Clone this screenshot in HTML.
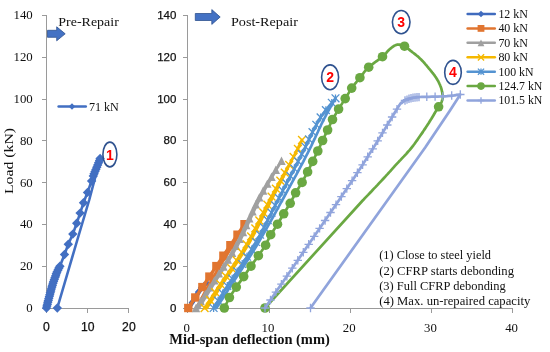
<!DOCTYPE html>
<html lang="en"><head><meta charset="utf-8"><title>Load vs mid-span deflection</title>
<style>html,body{margin:0;padding:0;background:#fff}svg{display:block}</style></head>
<body>
<svg width="550" height="352" viewBox="0 0 550 352">
<rect width="550" height="352" fill="#ffffff"/>
<path d="M46.5 14.8 V308.5 H128.9" stroke="#9a9a9a" stroke-width="1" fill="none" shape-rendering="crispEdges"/>
<path d="M42 308.4 h4.5" stroke="#9a9a9a" stroke-width="1" shape-rendering="crispEdges"/>
<path d="M42 266.5 h4.5" stroke="#9a9a9a" stroke-width="1" shape-rendering="crispEdges"/>
<path d="M42 224.6 h4.5" stroke="#9a9a9a" stroke-width="1" shape-rendering="crispEdges"/>
<path d="M42 182.8 h4.5" stroke="#9a9a9a" stroke-width="1" shape-rendering="crispEdges"/>
<path d="M42 140.9 h4.5" stroke="#9a9a9a" stroke-width="1" shape-rendering="crispEdges"/>
<path d="M42 99 h4.5" stroke="#9a9a9a" stroke-width="1" shape-rendering="crispEdges"/>
<path d="M42 57.1 h4.5" stroke="#9a9a9a" stroke-width="1" shape-rendering="crispEdges"/>
<path d="M42 15.2 h4.5" stroke="#9a9a9a" stroke-width="1" shape-rendering="crispEdges"/>
<path d="M46.5 308.5 v4.5" stroke="#9a9a9a" stroke-width="1" shape-rendering="crispEdges"/>
<path d="M87.7 308.5 v4.5" stroke="#9a9a9a" stroke-width="1" shape-rendering="crispEdges"/>
<path d="M128.9 308.5 v4.5" stroke="#9a9a9a" stroke-width="1" shape-rendering="crispEdges"/>
<path d="M187.8 14.8 V308.5 H512.6" stroke="#9a9a9a" stroke-width="1" fill="none" shape-rendering="crispEdges"/>
<path d="M183.3 308.4 h4.5" stroke="#9a9a9a" stroke-width="1" shape-rendering="crispEdges"/>
<path d="M183.3 266.5 h4.5" stroke="#9a9a9a" stroke-width="1" shape-rendering="crispEdges"/>
<path d="M183.3 224.6 h4.5" stroke="#9a9a9a" stroke-width="1" shape-rendering="crispEdges"/>
<path d="M183.3 182.8 h4.5" stroke="#9a9a9a" stroke-width="1" shape-rendering="crispEdges"/>
<path d="M183.3 140.9 h4.5" stroke="#9a9a9a" stroke-width="1" shape-rendering="crispEdges"/>
<path d="M183.3 99 h4.5" stroke="#9a9a9a" stroke-width="1" shape-rendering="crispEdges"/>
<path d="M183.3 57.1 h4.5" stroke="#9a9a9a" stroke-width="1" shape-rendering="crispEdges"/>
<path d="M183.3 15.2 h4.5" stroke="#9a9a9a" stroke-width="1" shape-rendering="crispEdges"/>
<path d="M187.8 308.5 v4.5" stroke="#9a9a9a" stroke-width="1" shape-rendering="crispEdges"/>
<path d="M269 308.5 v4.5" stroke="#9a9a9a" stroke-width="1" shape-rendering="crispEdges"/>
<path d="M350.2 308.5 v4.5" stroke="#9a9a9a" stroke-width="1" shape-rendering="crispEdges"/>
<path d="M431.4 308.5 v4.5" stroke="#9a9a9a" stroke-width="1" shape-rendering="crispEdges"/>
<path d="M512.6 308.5 v4.5" stroke="#9a9a9a" stroke-width="1" shape-rendering="crispEdges"/>
<text x="32.7" y="312.2" text-anchor="end" font-family='"Liberation Serif", "DejaVu Serif", serif' font-size="12.8" fill="#111">0</text>
<text x="176.4" y="311.9" text-anchor="end" font-family='"Liberation Sans", "DejaVu Sans", sans-serif' font-size="11.5" fill="#111" stroke="#111" stroke-width="0.25">0</text>
<text x="32.7" y="270.3" text-anchor="end" font-family='"Liberation Serif", "DejaVu Serif", serif' font-size="12.8" fill="#111">20</text>
<text x="176.4" y="270" text-anchor="end" font-family='"Liberation Sans", "DejaVu Sans", sans-serif' font-size="11.5" fill="#111" stroke="#111" stroke-width="0.25">20</text>
<text x="32.7" y="228.4" text-anchor="end" font-family='"Liberation Serif", "DejaVu Serif", serif' font-size="12.8" fill="#111">40</text>
<text x="176.4" y="228.1" text-anchor="end" font-family='"Liberation Sans", "DejaVu Sans", sans-serif' font-size="11.5" fill="#111" stroke="#111" stroke-width="0.25">40</text>
<text x="32.7" y="186.6" text-anchor="end" font-family='"Liberation Serif", "DejaVu Serif", serif' font-size="12.8" fill="#111">60</text>
<text x="176.4" y="186.3" text-anchor="end" font-family='"Liberation Sans", "DejaVu Sans", sans-serif' font-size="11.5" fill="#111" stroke="#111" stroke-width="0.25">60</text>
<text x="32.7" y="144.7" text-anchor="end" font-family='"Liberation Serif", "DejaVu Serif", serif' font-size="12.8" fill="#111">80</text>
<text x="176.4" y="144.4" text-anchor="end" font-family='"Liberation Sans", "DejaVu Sans", sans-serif' font-size="11.5" fill="#111" stroke="#111" stroke-width="0.25">80</text>
<text x="32.7" y="102.8" text-anchor="end" font-family='"Liberation Serif", "DejaVu Serif", serif' font-size="12.8" fill="#111">100</text>
<text x="176.4" y="102.5" text-anchor="end" font-family='"Liberation Sans", "DejaVu Sans", sans-serif' font-size="11.5" fill="#111" stroke="#111" stroke-width="0.25">100</text>
<text x="32.7" y="60.9" text-anchor="end" font-family='"Liberation Serif", "DejaVu Serif", serif' font-size="12.8" fill="#111">120</text>
<text x="176.4" y="60.6" text-anchor="end" font-family='"Liberation Sans", "DejaVu Sans", sans-serif' font-size="11.5" fill="#111" stroke="#111" stroke-width="0.25">120</text>
<text x="32.7" y="19" text-anchor="end" font-family='"Liberation Serif", "DejaVu Serif", serif' font-size="12.8" fill="#111">140</text>
<text x="176.4" y="18.7" text-anchor="end" font-family='"Liberation Sans", "DejaVu Sans", sans-serif' font-size="11.5" fill="#111" stroke="#111" stroke-width="0.25">140</text>
<text x="46.5" y="330.6" text-anchor="middle" font-family='"Liberation Sans", "DejaVu Sans", sans-serif' font-size="12.2" fill="#111" stroke="#111" stroke-width="0.25">0</text>
<text x="87.7" y="330.6" text-anchor="middle" font-family='"Liberation Sans", "DejaVu Sans", sans-serif' font-size="12.2" fill="#111" stroke="#111" stroke-width="0.25">10</text>
<text x="128.9" y="330.6" text-anchor="middle" font-family='"Liberation Sans", "DejaVu Sans", sans-serif' font-size="12.2" fill="#111" stroke="#111" stroke-width="0.25">20</text>
<text x="186.8" y="331.5" text-anchor="middle" font-family='"Liberation Serif", "DejaVu Serif", serif' font-size="12.8" fill="#111">0</text>
<text x="268" y="331.5" text-anchor="middle" font-family='"Liberation Serif", "DejaVu Serif", serif' font-size="12.8" fill="#111">10</text>
<text x="349.2" y="331.5" text-anchor="middle" font-family='"Liberation Serif", "DejaVu Serif", serif' font-size="12.8" fill="#111">20</text>
<text x="430.4" y="331.5" text-anchor="middle" font-family='"Liberation Serif", "DejaVu Serif", serif' font-size="12.8" fill="#111">30</text>
<text x="511.6" y="331.5" text-anchor="middle" font-family='"Liberation Serif", "DejaVu Serif", serif' font-size="12.8" fill="#111">40</text>
<text x="249.5" y="343.6" text-anchor="middle" textLength="160.5" lengthAdjust="spacingAndGlyphs" font-family='"Liberation Serif", "DejaVu Serif", serif' font-weight="bold" font-size="13.8" fill="#111">Mid-span deflection (mm)</text>
<text transform="translate(12.6 161) rotate(-90)" text-anchor="middle" textLength="66" lengthAdjust="spacingAndGlyphs" font-family='"Liberation Serif", "DejaVu Serif", serif' font-size="12.3" fill="#111">Load  (kN)</text>
<polyline points="46.5,308 47.4,304 50.2,293 53.2,282.5 57,272 60.2,265.5 64.5,254.5 68.3,244.3 72.8,234.1 76.7,223.3 80.1,213.1 83.5,202.8 87.5,192.4 91.6,181 93.6,175 100.1,159 89.2,200 77.3,240 57.3,308" fill="none" stroke="#426FC2" stroke-width="2.6" stroke-linejoin="round" stroke-linecap="round" />
<path d="M46.5 303.3 l4.7 4.7 l-4.7 4.7 l-4.7 -4.7 z" fill="#426FC2"/>
<path d="M46.9 301.4 l4.7 4.7 l-4.7 4.7 l-4.7 -4.7 z" fill="#426FC2"/>
<path d="M47.4 299.5 l4.7 4.7 l-4.7 4.7 l-4.7 -4.7 z" fill="#426FC2"/>
<path d="M47.8 297.6 l4.7 4.7 l-4.7 4.7 l-4.7 -4.7 z" fill="#426FC2"/>
<path d="M48.3 295.7 l4.7 4.7 l-4.7 4.7 l-4.7 -4.7 z" fill="#426FC2"/>
<path d="M48.8 293.8 l4.7 4.7 l-4.7 4.7 l-4.7 -4.7 z" fill="#426FC2"/>
<path d="M49.3 291.9 l4.7 4.7 l-4.7 4.7 l-4.7 -4.7 z" fill="#426FC2"/>
<path d="M49.8 290 l4.7 4.7 l-4.7 4.7 l-4.7 -4.7 z" fill="#426FC2"/>
<path d="M50.3 288.1 l4.7 4.7 l-4.7 4.7 l-4.7 -4.7 z" fill="#426FC2"/>
<path d="M50.8 286.2 l4.7 4.7 l-4.7 4.7 l-4.7 -4.7 z" fill="#426FC2"/>
<path d="M51.3 284.3 l4.7 4.7 l-4.7 4.7 l-4.7 -4.7 z" fill="#426FC2"/>
<path d="M51.9 282.4 l4.7 4.7 l-4.7 4.7 l-4.7 -4.7 z" fill="#426FC2"/>
<path d="M52.4 280.5 l4.7 4.7 l-4.7 4.7 l-4.7 -4.7 z" fill="#426FC2"/>
<path d="M53 278.6 l4.7 4.7 l-4.7 4.7 l-4.7 -4.7 z" fill="#426FC2"/>
<path d="M53.6 276.7 l4.7 4.7 l-4.7 4.7 l-4.7 -4.7 z" fill="#426FC2"/>
<path d="M54.3 274.8 l4.7 4.7 l-4.7 4.7 l-4.7 -4.7 z" fill="#426FC2"/>
<path d="M55 272.9 l4.7 4.7 l-4.7 4.7 l-4.7 -4.7 z" fill="#426FC2"/>
<path d="M55.7 271 l4.7 4.7 l-4.7 4.7 l-4.7 -4.7 z" fill="#426FC2"/>
<path d="M56.3 269.1 l4.7 4.7 l-4.7 4.7 l-4.7 -4.7 z" fill="#426FC2"/>
<path d="M57 267.2 l4.7 4.7 l-4.7 4.7 l-4.7 -4.7 z" fill="#426FC2"/>
<path d="M58 265.3 l4.7 4.7 l-4.7 4.7 l-4.7 -4.7 z" fill="#426FC2"/>
<path d="M58.9 263.4 l4.7 4.7 l-4.7 4.7 l-4.7 -4.7 z" fill="#426FC2"/>
<path d="M59.9 261.5 l4.7 4.7 l-4.7 4.7 l-4.7 -4.7 z" fill="#426FC2"/>
<path d="M64.5 249.8 l4.7 4.7 l-4.7 4.7 l-4.7 -4.7 z" fill="#426FC2"/>
<path d="M68.3 239.6 l4.7 4.7 l-4.7 4.7 l-4.7 -4.7 z" fill="#426FC2"/>
<path d="M72.8 229.4 l4.7 4.7 l-4.7 4.7 l-4.7 -4.7 z" fill="#426FC2"/>
<path d="M76.7 218.6 l4.7 4.7 l-4.7 4.7 l-4.7 -4.7 z" fill="#426FC2"/>
<path d="M80.1 208.4 l4.7 4.7 l-4.7 4.7 l-4.7 -4.7 z" fill="#426FC2"/>
<path d="M83.5 198.1 l4.7 4.7 l-4.7 4.7 l-4.7 -4.7 z" fill="#426FC2"/>
<path d="M87.5 187.7 l4.7 4.7 l-4.7 4.7 l-4.7 -4.7 z" fill="#426FC2"/>
<path d="M91.6 176.3 l4.7 4.7 l-4.7 4.7 l-4.7 -4.7 z" fill="#426FC2"/>
<path d="M93.3 171.3 l4.7 4.7 l-4.7 4.7 l-4.7 -4.7 z" fill="#426FC2"/>
<path d="M94.1 169.1 l4.7 4.7 l-4.7 4.7 l-4.7 -4.7 z" fill="#426FC2"/>
<path d="M95 166.9 l4.7 4.7 l-4.7 4.7 l-4.7 -4.7 z" fill="#426FC2"/>
<path d="M95.9 164.7 l4.7 4.7 l-4.7 4.7 l-4.7 -4.7 z" fill="#426FC2"/>
<path d="M96.8 162.5 l4.7 4.7 l-4.7 4.7 l-4.7 -4.7 z" fill="#426FC2"/>
<path d="M97.7 160.3 l4.7 4.7 l-4.7 4.7 l-4.7 -4.7 z" fill="#426FC2"/>
<path d="M98.6 158.1 l4.7 4.7 l-4.7 4.7 l-4.7 -4.7 z" fill="#426FC2"/>
<path d="M99.5 155.9 l4.7 4.7 l-4.7 4.7 l-4.7 -4.7 z" fill="#426FC2"/>
<path d="M100.1 153.7 l4.7 4.7 l-4.7 4.7 l-4.7 -4.7 z" fill="#426FC2"/>
<path d="M57.3 303.3 l4.7 4.7 l-4.7 4.7 l-4.7 -4.7 z" fill="#426FC2"/>
<polyline points="188.3,308 193.5,297.5 200,287.5 206,283 190,308" fill="none" stroke="#406BBE" stroke-width="2.2" stroke-linejoin="round" stroke-linecap="round" />
<path d="M188.3 304.8 l3.2 3.2 l-3.2 3.2 l-3.2 -3.2 z" fill="#406BBE"/>
<path d="M191.8 299.3 l3.2 3.2 l-3.2 3.2 l-3.2 -3.2 z" fill="#406BBE"/>
<path d="M194.5 294.3 l3.2 3.2 l-3.2 3.2 l-3.2 -3.2 z" fill="#406BBE"/>
<path d="M198 288.8 l3.2 3.2 l-3.2 3.2 l-3.2 -3.2 z" fill="#406BBE"/>
<path d="M201 284.3 l3.2 3.2 l-3.2 3.2 l-3.2 -3.2 z" fill="#406BBE"/>
<path d="M204 281.8 l3.2 3.2 l-3.2 3.2 l-3.2 -3.2 z" fill="#406BBE"/>
<path d="M207 279.8 l3.2 3.2 l-3.2 3.2 l-3.2 -3.2 z" fill="#406BBE"/>
<polyline points="188.3,308 244.5,224.2 234,243 222,262.5 209,285 196.5,308" fill="none" stroke="#E17530" stroke-width="3.2" stroke-linejoin="round" stroke-linecap="round" />
<rect x="184.1" y="303.8" width="8.4" height="8.4" fill="#E17530"/>
<rect x="191.1" y="293.3" width="8.4" height="8.4" fill="#E17530"/>
<rect x="198.2" y="282.9" width="8.4" height="8.4" fill="#E17530"/>
<rect x="205.2" y="272.4" width="8.4" height="8.4" fill="#E17530"/>
<rect x="212.2" y="261.9" width="8.4" height="8.4" fill="#E17530"/>
<rect x="219.2" y="251.5" width="8.4" height="8.4" fill="#E17530"/>
<rect x="226.2" y="241" width="8.4" height="8.4" fill="#E17530"/>
<rect x="233.3" y="230.5" width="8.4" height="8.4" fill="#E17530"/>
<rect x="240.3" y="220" width="8.4" height="8.4" fill="#E17530"/>
<polyline points="196,308 196.9,306.6 198,305 199.4,303 200.8,300.8 202.5,298.4 204.2,295.8 206.1,293.1 208,290.1 210,287.1 212,284 214.1,280.7 216.4,277.3 218.8,273.7 221.3,269.9 223.8,265.9 226.4,261.9 229,257.8 231.6,253.6 234.1,249.3 236.5,245 238.8,240.6 241.1,236 243.4,231.2 245.6,226.3 247.9,221.4 250.1,216.5 252.3,211.6 254.5,206.9 256.8,202.3 259,198 261.4,193.7 263.9,189.3 266.5,184.9 269.1,180.6 271.7,176.5 274.1,172.5 276.4,168.9 278.4,165.7 280.2,163 281.5,160.8 280.2,163 278.6,165.7 276.7,168.9 274.6,172.5 272.3,176.5 269.9,180.6 267.4,184.9 265,189.3 262.6,193.7 260.3,198 258.1,202.3 255.9,206.9 253.7,211.6 251.5,216.5 249.2,221.4 247,226.3 244.7,231.2 242.4,236 240.1,240.6 237.8,245 235.4,249.3 232.9,253.6 230.4,257.8 227.9,261.9 225.3,265.9 222.8,269.9 220.4,273.7 218,277.3 215.8,280.7 213.8,284 211.9,287.1 210,290.1 208.2,293.1 206.5,295.8 204.9,298.4 203.4,300.8 202.1,303 200.9,305 199.8,306.6 199,308" fill="none" stroke="#A0A0A0" stroke-width="2.7" stroke-linejoin="round" stroke-linecap="round" />
<path d="M196 303.8 L200.2 312.2 L191.8 312.2 z" fill="#A0A0A0"/>
<path d="M200.7 296.9 L204.9 305.3 L196.5 305.3 z" fill="#A0A0A0"/>
<path d="M205.3 290 L209.5 298.4 L201.1 298.4 z" fill="#A0A0A0"/>
<path d="M209.9 283.1 L214.1 291.5 L205.7 291.5 z" fill="#A0A0A0"/>
<path d="M214.4 276.2 L218.6 284.6 L210.2 284.6 z" fill="#A0A0A0"/>
<path d="M218.9 269.2 L223.1 277.6 L214.7 277.6 z" fill="#A0A0A0"/>
<path d="M223.5 262.3 L227.7 270.7 L219.3 270.7 z" fill="#A0A0A0"/>
<path d="M227.9 255.4 L232.1 263.8 L223.7 263.8 z" fill="#A0A0A0"/>
<path d="M232.1 248.5 L236.3 256.9 L227.9 256.9 z" fill="#A0A0A0"/>
<path d="M236 241.6 L240.2 250 L231.8 250 z" fill="#A0A0A0"/>
<path d="M239.7 234.7 L243.9 243.1 L235.5 243.1 z" fill="#A0A0A0"/>
<path d="M243 227.8 L247.2 236.2 L238.8 236.2 z" fill="#A0A0A0"/>
<path d="M246.2 220.9 L250.4 229.3 L242 229.3 z" fill="#A0A0A0"/>
<path d="M249.3 214 L253.5 222.4 L245.1 222.4 z" fill="#A0A0A0"/>
<path d="M252.5 207.1 L256.7 215.5 L248.3 215.5 z" fill="#A0A0A0"/>
<path d="M255.8 200.1 L260 208.5 L251.6 208.5 z" fill="#A0A0A0"/>
<path d="M259.3 193.2 L263.5 201.6 L255.1 201.6 z" fill="#A0A0A0"/>
<path d="M263.2 186.3 L267.4 194.7 L259 194.7 z" fill="#A0A0A0"/>
<path d="M267.3 179.4 L271.5 187.8 L263.1 187.8 z" fill="#A0A0A0"/>
<path d="M271.5 172.5 L275.7 180.9 L267.3 180.9 z" fill="#A0A0A0"/>
<path d="M275.8 165.6 L280 174 L271.6 174 z" fill="#A0A0A0"/>
<path d="M281.5 156.6 L285.7 165 L277.3 165 z" fill="#A0A0A0"/>
<polyline points="204.6,308 205.5,306.6 206.6,305 207.9,303 209.3,300.8 210.9,298.4 212.7,295.8 214.5,293.1 216.4,290.1 218.4,287.1 220.5,284 222.7,280.7 225,277.3 227.6,273.7 230.2,269.9 232.9,265.9 235.6,261.9 238.3,257.8 241.1,253.6 243.7,249.3 246.3,245 248.8,240.6 251.3,236.1 253.7,231.4 256.2,226.7 258.6,221.8 261,217 263.5,212.2 265.9,207.4 268.3,202.6 270.8,198 273.3,193.3 276,188.4 278.8,183.5 281.5,178.5 284.3,173.6 286.9,168.9 289.4,164.4 291.7,160.3 293.8,156.6 295.5,153.4 296.9,150.7 298.1,148.5 299,146.7 299.7,145.2 300.3,143.9 300.7,142.9 301.1,142.1 301.4,141.3 301.7,140.7 302,140 300.2,143.5 297.9,148.1 295.2,153.5 292.1,159.6 288.8,166.1 285.4,172.8 281.9,179.6 278.6,186.2 275.4,192.4 272.5,198 269.9,203.2 267.3,208.2 264.8,213.2 262.4,218 260,222.7 257.6,227.3 255.3,231.8 252.9,236.3 250.5,240.7 248,245 245.4,249.3 242.8,253.6 240.1,257.8 237.4,261.9 234.7,265.9 232,269.9 229.4,273.7 227,277.3 224.6,280.7 222.5,284 220.5,287.1 218.5,290.1 216.6,293.1 214.8,295.8 213.2,298.4 211.6,300.8 210.2,303 208.9,305 207.9,306.6 207,308" fill="none" stroke="#F5B800" stroke-width="2.7" stroke-linejoin="round" stroke-linecap="round" />
<path d="M200.7 304.1 l7.8 7.8 M200.7 311.9 l7.8 -7.8" stroke="#F5B800" stroke-width="1.4" fill="none"/>
<path d="M206 296.1 l7.8 7.8 M206 303.9 l7.8 -7.8" stroke="#F5B800" stroke-width="1.4" fill="none"/>
<path d="M211.2 288.2 l7.8 7.8 M211.2 296 l7.8 -7.8" stroke="#F5B800" stroke-width="1.4" fill="none"/>
<path d="M216.5 280.2 l7.8 7.8 M216.5 288 l7.8 -7.8" stroke="#F5B800" stroke-width="1.4" fill="none"/>
<path d="M221.9 272.3 l7.8 7.8 M221.9 280.1 l7.8 -7.8" stroke="#F5B800" stroke-width="1.4" fill="none"/>
<path d="M227.4 264.3 l7.8 7.8 M227.4 272.1 l7.8 -7.8" stroke="#F5B800" stroke-width="1.4" fill="none"/>
<path d="M232.8 256.4 l7.8 7.8 M232.8 264.2 l7.8 -7.8" stroke="#F5B800" stroke-width="1.4" fill="none"/>
<path d="M237.9 248.4 l7.8 7.8 M237.9 256.2 l7.8 -7.8" stroke="#F5B800" stroke-width="1.4" fill="none"/>
<path d="M242.8 240.4 l7.8 7.8 M242.8 248.2 l7.8 -7.8" stroke="#F5B800" stroke-width="1.4" fill="none"/>
<path d="M247.2 232.5 l7.8 7.8 M247.2 240.3 l7.8 -7.8" stroke="#F5B800" stroke-width="1.4" fill="none"/>
<path d="M251.4 224.5 l7.8 7.8 M251.4 232.3 l7.8 -7.8" stroke="#F5B800" stroke-width="1.4" fill="none"/>
<path d="M255.4 216.6 l7.8 7.8 M255.4 224.4 l7.8 -7.8" stroke="#F5B800" stroke-width="1.4" fill="none"/>
<path d="M259.4 208.6 l7.8 7.8 M259.4 216.4 l7.8 -7.8" stroke="#F5B800" stroke-width="1.4" fill="none"/>
<path d="M263.5 200.7 l7.8 7.8 M263.5 208.5 l7.8 -7.8" stroke="#F5B800" stroke-width="1.4" fill="none"/>
<path d="M267.7 192.7 l7.8 7.8 M267.7 200.5 l7.8 -7.8" stroke="#F5B800" stroke-width="1.4" fill="none"/>
<path d="M272 184.7 l7.8 7.8 M272 192.5 l7.8 -7.8" stroke="#F5B800" stroke-width="1.4" fill="none"/>
<path d="M276.4 176.8 l7.8 7.8 M276.4 184.6 l7.8 -7.8" stroke="#F5B800" stroke-width="1.4" fill="none"/>
<path d="M280.9 168.8 l7.8 7.8 M280.9 176.6 l7.8 -7.8" stroke="#F5B800" stroke-width="1.4" fill="none"/>
<path d="M285.3 160.9 l7.8 7.8 M285.3 168.7 l7.8 -7.8" stroke="#F5B800" stroke-width="1.4" fill="none"/>
<path d="M289.7 152.9 l7.8 7.8 M289.7 160.7 l7.8 -7.8" stroke="#F5B800" stroke-width="1.4" fill="none"/>
<path d="M294 145 l7.8 7.8 M294 152.8 l7.8 -7.8" stroke="#F5B800" stroke-width="1.4" fill="none"/>
<path d="M298.1 136.1 l7.8 7.8 M298.1 143.9 l7.8 -7.8" stroke="#F5B800" stroke-width="1.4" fill="none"/>
<polyline points="213.6,308 214.4,306.7 215.4,305.1 216.5,303.3 217.8,301.3 219.2,299 220.7,296.5 222.4,293.9 224.1,291.1 226,288.1 228,285 230.2,281.7 232.5,278.2 235.1,274.5 237.7,270.6 240.5,266.5 243.3,262.3 246.2,258 249,253.7 251.7,249.4 254.3,245 256.8,240.6 259.4,236 261.9,231.3 264.4,226.6 266.8,221.8 269.3,217 271.8,212.1 274.2,207.4 276.6,202.6 279,198 281.4,193.4 283.8,188.7 286.3,184.1 288.7,179.4 291.1,174.9 293.5,170.3 295.8,165.9 298,161.6 300.1,157.4 302.2,153.4 304.1,149.6 306,145.8 307.7,142.2 309.4,138.7 311,135.3 312.6,132 314.2,128.8 315.8,125.8 317.4,122.8 319,120 320.7,117.3 322.6,114.6 324.5,111.9 326.4,109.4 328.3,107.1 330.1,104.9 331.8,102.8 333.3,101.1 334.5,99.5 335.5,98.3 334.8,99.5 333.9,101.1 332.9,102.8 331.8,104.9 330.5,107.1 329.2,109.4 327.8,111.9 326.3,114.6 324.9,117.3 323.5,120 322.1,122.8 320.7,125.8 319.2,128.8 317.8,132 316.2,135.3 314.7,138.7 313,142.2 311.3,145.8 309.4,149.6 307.5,153.4 305.4,157.4 303.3,161.6 301,165.9 298.6,170.3 296.2,174.9 293.7,179.4 291.1,184.1 288.6,188.7 286,193.4 283.5,198 280.9,202.6 278.3,207.4 275.7,212.2 273,217 270.3,221.8 267.6,226.7 264.9,231.4 262.2,236.1 259.6,240.6 257,245 254.4,249.3 251.8,253.6 249.1,257.8 246.4,261.9 243.8,265.9 241.2,269.9 238.8,273.7 236.4,277.3 234.1,280.7 232,284 230,287.1 228,290.1 226.2,293.1 224.4,295.8 222.7,298.4 221.1,300.8 219.7,303 218.5,305 217.4,306.6 216.5,308" fill="none" stroke="#5493D1" stroke-width="2.7" stroke-linejoin="round" stroke-linecap="round" />
<path d="M209.7 304.1 l7.8 7.8 M209.7 311.9 l7.8 -7.8 M213.6 304.1 l0 7.8" stroke="#5493D1" stroke-width="1.3" fill="none"/>
<path d="M214.2 296.8 l7.8 7.8 M214.2 304.6 l7.8 -7.8 M218.1 296.8 l0 7.8" stroke="#5493D1" stroke-width="1.3" fill="none"/>
<path d="M218.8 289.4 l7.8 7.8 M218.8 297.2 l7.8 -7.8 M222.7 289.4 l0 7.8" stroke="#5493D1" stroke-width="1.3" fill="none"/>
<path d="M223.4 282.1 l7.8 7.8 M223.4 289.9 l7.8 -7.8 M227.3 282.1 l0 7.8" stroke="#5493D1" stroke-width="1.3" fill="none"/>
<path d="M228.3 274.8 l7.8 7.8 M228.3 282.6 l7.8 -7.8 M232.2 274.8 l0 7.8" stroke="#5493D1" stroke-width="1.3" fill="none"/>
<path d="M233.3 267.5 l7.8 7.8 M233.3 275.3 l7.8 -7.8 M237.2 267.5 l0 7.8" stroke="#5493D1" stroke-width="1.3" fill="none"/>
<path d="M238.3 260.1 l7.8 7.8 M238.3 267.9 l7.8 -7.8 M242.2 260.1 l0 7.8" stroke="#5493D1" stroke-width="1.3" fill="none"/>
<path d="M243.1 252.8 l7.8 7.8 M243.1 260.6 l7.8 -7.8 M247 252.8 l0 7.8" stroke="#5493D1" stroke-width="1.3" fill="none"/>
<path d="M247.8 245.5 l7.8 7.8 M247.8 253.3 l7.8 -7.8 M251.7 245.5 l0 7.8" stroke="#5493D1" stroke-width="1.3" fill="none"/>
<path d="M252.1 238.1 l7.8 7.8 M252.1 245.9 l7.8 -7.8 M256 238.1 l0 7.8" stroke="#5493D1" stroke-width="1.3" fill="none"/>
<path d="M256.2 230.8 l7.8 7.8 M256.2 238.6 l7.8 -7.8 M260.1 230.8 l0 7.8" stroke="#5493D1" stroke-width="1.3" fill="none"/>
<path d="M260.1 223.5 l7.8 7.8 M260.1 231.3 l7.8 -7.8 M264 223.5 l0 7.8" stroke="#5493D1" stroke-width="1.3" fill="none"/>
<path d="M263.8 216.2 l7.8 7.8 M263.8 224 l7.8 -7.8 M267.7 216.2 l0 7.8" stroke="#5493D1" stroke-width="1.3" fill="none"/>
<path d="M267.6 208.8 l7.8 7.8 M267.6 216.6 l7.8 -7.8 M271.5 208.8 l0 7.8" stroke="#5493D1" stroke-width="1.3" fill="none"/>
<path d="M271.3 201.5 l7.8 7.8 M271.3 209.3 l7.8 -7.8 M275.2 201.5 l0 7.8" stroke="#5493D1" stroke-width="1.3" fill="none"/>
<path d="M275.1 194.2 l7.8 7.8 M275.1 202 l7.8 -7.8 M279 194.2 l0 7.8" stroke="#5493D1" stroke-width="1.3" fill="none"/>
<path d="M278.9 186.8 l7.8 7.8 M278.9 194.6 l7.8 -7.8 M282.8 186.8 l0 7.8" stroke="#5493D1" stroke-width="1.3" fill="none"/>
<path d="M282.7 179.5 l7.8 7.8 M282.7 187.3 l7.8 -7.8 M286.6 179.5 l0 7.8" stroke="#5493D1" stroke-width="1.3" fill="none"/>
<path d="M286.6 172.2 l7.8 7.8 M286.6 180 l7.8 -7.8 M290.5 172.2 l0 7.8" stroke="#5493D1" stroke-width="1.3" fill="none"/>
<path d="M290.4 164.8 l7.8 7.8 M290.4 172.6 l7.8 -7.8 M294.3 164.8 l0 7.8" stroke="#5493D1" stroke-width="1.3" fill="none"/>
<path d="M294.2 157.5 l7.8 7.8 M294.2 165.3 l7.8 -7.8 M298.1 157.5 l0 7.8" stroke="#5493D1" stroke-width="1.3" fill="none"/>
<path d="M297.9 150.2 l7.8 7.8 M297.9 158 l7.8 -7.8 M301.8 150.2 l0 7.8" stroke="#5493D1" stroke-width="1.3" fill="none"/>
<path d="M301.6 142.9 l7.8 7.8 M301.6 150.7 l7.8 -7.8 M305.5 142.9 l0 7.8" stroke="#5493D1" stroke-width="1.3" fill="none"/>
<path d="M305.1 135.5 l7.8 7.8 M305.1 143.3 l7.8 -7.8 M309 135.5 l0 7.8" stroke="#5493D1" stroke-width="1.3" fill="none"/>
<path d="M308.6 128.2 l7.8 7.8 M308.6 136 l7.8 -7.8 M312.5 128.2 l0 7.8" stroke="#5493D1" stroke-width="1.3" fill="none"/>
<path d="M312.4 120.9 l7.8 7.8 M312.4 128.7 l7.8 -7.8 M316.3 120.9 l0 7.8" stroke="#5493D1" stroke-width="1.3" fill="none"/>
<path d="M316.7 113.5 l7.8 7.8 M316.7 121.3 l7.8 -7.8 M320.6 113.5 l0 7.8" stroke="#5493D1" stroke-width="1.3" fill="none"/>
<path d="M322 106.2 l7.8 7.8 M322 114 l7.8 -7.8 M325.9 106.2 l0 7.8" stroke="#5493D1" stroke-width="1.3" fill="none"/>
<path d="M327.9 98.9 l7.8 7.8 M327.9 106.7 l7.8 -7.8 M331.8 98.9 l0 7.8" stroke="#5493D1" stroke-width="1.3" fill="none"/>
<path d="M331.6 94.4 l7.8 7.8 M331.6 102.2 l7.8 -7.8 M335.5 94.4 l0 7.8" stroke="#5493D1" stroke-width="1.3" fill="none"/>
<polyline points="224.3,308 229.4,297.5 236.3,287.1 243.7,276.6 251,266.1 258.4,255.7 265.6,245.2 270.7,234.7 277.5,224.2 283.7,213.8 290.2,203.3 295.6,192.8 302.1,182.4 307.6,171.9 312.7,161.4 317.8,151 322.6,140.5 327.6,130 332.5,119.5 338.6,109.1 345.2,98.6 351.7,88.1 352.1,87.6 352.6,87 353.2,86.2 353.8,85.4 354.5,84.5 355.2,83.5 356,82.6 356.8,81.5 357.6,80.5 358.4,79.5 359.2,78.6 359.9,77.7 360.6,76.8 361.3,75.9 361.9,75 362.6,74.2 363.3,73.3 363.9,72.4 364.6,71.6 365.4,70.7 366.1,69.8 366.9,68.9 367.8,68.1 368.7,67.2 369.7,66.3 370.8,65.4 372,64.5 373.2,63.6 374.5,62.6 375.8,61.7 377,60.8 378.3,59.9 379.5,59.1 380.6,58.2 381.6,57.5 382.5,56.7 383.3,56 384,55.4 384.6,54.8 385.1,54.2 385.6,53.6 386.1,53.1 386.5,52.6 386.9,52.1 387.3,51.6 387.7,51.1 388.1,50.7 388.6,50.2 389.1,49.7 389.6,49.3 390.1,48.9 390.6,48.5 391.1,48.1 391.5,47.7 392,47.3 392.5,47 393,46.6 393.4,46.3 393.9,46 394.3,45.8 394.7,45.6 395.1,45.4 395.5,45.2 395.9,45.1 396.3,44.9 396.7,44.8 397,44.7 397.4,44.7 397.8,44.6 398.2,44.6 398.6,44.6 399,44.6 399.4,44.6 399.9,44.7 400.3,44.7 400.7,44.8 401.2,44.9 401.6,45 402.1,45.1 402.5,45.3 403,45.5 403.5,45.7 404,45.9 404.5,46.2 405,46.5 405.5,46.8 406.1,47.2 406.6,47.6 407.2,48 407.7,48.4 408.3,48.9 408.9,49.4 409.5,49.9 410.1,50.4 410.7,50.9 411.4,51.4 412.1,51.9 412.8,52.5 413.5,53 414.3,53.6 415,54.2 415.8,54.8 416.6,55.5 417.4,56.1 418.2,56.8 419,57.5 419.7,58.2 420.5,58.9 421.3,59.7 422,60.5 422.8,61.3 423.6,62.1 424.4,63 425.1,63.9 425.9,64.8 426.7,65.7 427.4,66.6 428.1,67.4 428.8,68.3 429.5,69.1 430.2,69.9 430.8,70.7 431.4,71.5 432,72.2 432.6,73 433.2,73.7 433.8,74.5 434.4,75.2 434.9,76 435.4,76.7 435.9,77.4 436.4,78.2 436.9,79 437.3,79.7 437.8,80.5 438.2,81.2 438.6,82 439,82.8 439.3,83.5 439.7,84.3 440,85 440.3,85.8 440.6,86.5 440.9,87.3 441.2,88.1 441.4,88.9 441.6,89.7 441.8,90.5 442,91.3 442.2,92.1 442.3,92.9 442.4,93.6 442.5,94.4 442.6,95.1 442.7,95.8 442.7,96.4 442.7,97 442.7,97.5 442.7,98.1 442.6,98.6 442.5,99 442.4,99.5 442.3,99.9 442.1,100.3 442,100.7 441.8,101.2 441.7,101.6 441.5,102 441.4,102.4 441.2,102.7 441.1,102.9 441,103 440.9,103.2 440.8,103.4 440.6,103.6 440.4,104 440.1,104.4 439.7,105 439.2,105.8 438.6,106.8 437.9,108 437,109.4 436,111.1 434.9,112.8 433.8,114.7 432.6,116.7 431.4,118.7 430.1,120.7 428.9,122.7 427.6,124.7 426.4,126.6 425.2,128.4 424,130.1 422.9,131.9 421.7,133.6 420.5,135.3 419.3,137 418.1,138.7 417,140.4 415.8,142 414.6,143.7 413.4,145.3 412.2,146.8 411,148.3 409.8,149.8 408.6,151.1 407.4,152.5 406.3,153.8 405.1,155.1 403.9,156.4 402.7,157.6 401.5,158.9 400.4,160.1 399.2,161.3 398,162.6 396.8,163.9 395.6,165.2 394.5,166.4 393.4,167.7 392.3,168.9 391.2,170.1 390.1,171.4 388.9,172.6 387.8,173.9 386.6,175.2 385.3,176.6 384,178 382.6,179.5 381.1,181.1 379.4,182.9 377.6,184.9 375.7,186.9 373.7,188.9 371.8,191 369.9,193 368.1,194.9 366.4,196.6 364.9,198.2 363.7,199.5 362.7,200.5 265,308" fill="none" stroke="#6AA842" stroke-width="2.7" stroke-linejoin="round" stroke-linecap="round" />
<circle cx="224.3" cy="308" r="4.8" fill="#6AA842"/>
<circle cx="229.4" cy="297.5" r="4.8" fill="#6AA842"/>
<circle cx="236.3" cy="287.1" r="4.8" fill="#6AA842"/>
<circle cx="243.7" cy="276.6" r="4.8" fill="#6AA842"/>
<circle cx="251" cy="266.1" r="4.8" fill="#6AA842"/>
<circle cx="258.4" cy="255.7" r="4.8" fill="#6AA842"/>
<circle cx="265.6" cy="245.2" r="4.8" fill="#6AA842"/>
<circle cx="270.7" cy="234.7" r="4.8" fill="#6AA842"/>
<circle cx="277.5" cy="224.2" r="4.8" fill="#6AA842"/>
<circle cx="283.7" cy="213.8" r="4.8" fill="#6AA842"/>
<circle cx="290.2" cy="203.3" r="4.8" fill="#6AA842"/>
<circle cx="295.6" cy="192.8" r="4.8" fill="#6AA842"/>
<circle cx="302.1" cy="182.4" r="4.8" fill="#6AA842"/>
<circle cx="307.6" cy="171.9" r="4.8" fill="#6AA842"/>
<circle cx="312.7" cy="161.4" r="4.8" fill="#6AA842"/>
<circle cx="317.8" cy="151" r="4.8" fill="#6AA842"/>
<circle cx="322.6" cy="140.5" r="4.8" fill="#6AA842"/>
<circle cx="327.6" cy="130" r="4.8" fill="#6AA842"/>
<circle cx="332.5" cy="119.5" r="4.8" fill="#6AA842"/>
<circle cx="338.6" cy="109.1" r="4.8" fill="#6AA842"/>
<circle cx="345.2" cy="98.6" r="4.8" fill="#6AA842"/>
<circle cx="351.7" cy="88.1" r="4.8" fill="#6AA842"/>
<circle cx="359.9" cy="77.7" r="4.8" fill="#6AA842"/>
<circle cx="368.7" cy="67.2" r="4.8" fill="#6AA842"/>
<circle cx="382.5" cy="56.7" r="4.8" fill="#6AA842"/>
<circle cx="404.5" cy="46.2" r="4.8" fill="#6AA842"/>
<circle cx="438.6" cy="106.8" r="4.8" fill="#6AA842"/>
<circle cx="265" cy="308" r="4.8" fill="#6AA842"/>
<polyline points="265,308 270,300.8 276.6,291.1 284.6,279.5 293.5,266.5 302.9,252.8 312.5,238.8 321.8,225.3 330.5,212.6 338.1,201.4 344.3,192.3 349.2,185.1 353.2,179.2 356.4,174.2 359.2,170.1 361.5,166.6 363.5,163.4 365.4,160.4 367.4,157.3 369.5,153.9 372,150 374.8,145.6 377.7,140.8 380.7,135.9 383.7,131 386.6,126.1 389.4,121.5 392.1,117.1 394.4,113.2 396.5,109.8 398.2,107.1 399.5,105.1 400.3,103.8 400.9,103 401.2,102.7 401.3,102.6 401.3,102.8 401.2,103.1 401.2,103.3 401.3,103.4 401.5,103.2 401.8,102.9 402.2,102.6 402.5,102.3 402.8,102 403.1,101.7 403.5,101.5 403.8,101.2 404.2,101 404.6,100.7 405,100.5 405.4,100.3 405.9,100 406.4,99.8 406.9,99.6 407.4,99.4 407.9,99.2 408.5,99 409,98.8 409.5,98.7 410,98.5 410.5,98.4 411,98.2 411.5,98.1 412,98 412.5,97.9 413,97.8 413.5,97.7 414,97.7 414.5,97.6 415,97.5 415.4,97.4 415.7,97.4 415.9,97.3 416,97.3 416.2,97.2 416.6,97.2 417,97.1 417.7,97.1 418.7,97.1 420,97 421.7,96.9 423.9,96.9 426.3,96.8 429,96.8 431.9,96.7 434.7,96.7 437.6,96.6 440.3,96.5 442.8,96.4 445,96.3 447,96.2 448.9,96 450.8,95.8 452.6,95.6 454.2,95.4 455.7,95.1 457.1,94.9 458.4,94.8 459.4,94.6 460.3,94.5 450,110.5 425.2,147.5 310.5,308" fill="none" stroke="#90A4DC" stroke-width="2.7" stroke-linejoin="round" stroke-linecap="round" />
<path d="M260.8 308 l8.4 0 M265 303.8 l0 8.4" stroke="#90A4DC" stroke-width="1.3" fill="none"/>
<path d="M266.3 300 l8.4 0 M270.5 295.8 l0 8.4" stroke="#90A4DC" stroke-width="1.3" fill="none"/>
<path d="M271.7 292.1 l8.4 0 M275.9 287.9 l0 8.4" stroke="#90A4DC" stroke-width="1.3" fill="none"/>
<path d="M277.2 284.1 l8.4 0 M281.4 279.9 l0 8.4" stroke="#90A4DC" stroke-width="1.3" fill="none"/>
<path d="M282.7 276.2 l8.4 0 M286.9 272 l0 8.4" stroke="#90A4DC" stroke-width="1.3" fill="none"/>
<path d="M288.1 268.2 l8.4 0 M292.3 264 l0 8.4" stroke="#90A4DC" stroke-width="1.3" fill="none"/>
<path d="M293.6 260.3 l8.4 0 M297.8 256.1 l0 8.4" stroke="#90A4DC" stroke-width="1.3" fill="none"/>
<path d="M299.1 252.3 l8.4 0 M303.3 248.1 l0 8.4" stroke="#90A4DC" stroke-width="1.3" fill="none"/>
<path d="M304.5 244.3 l8.4 0 M308.7 240.1 l0 8.4" stroke="#90A4DC" stroke-width="1.3" fill="none"/>
<path d="M310 236.4 l8.4 0 M314.2 232.2 l0 8.4" stroke="#90A4DC" stroke-width="1.3" fill="none"/>
<path d="M315.4 228.4 l8.4 0 M319.6 224.2 l0 8.4" stroke="#90A4DC" stroke-width="1.3" fill="none"/>
<path d="M320.9 220.5 l8.4 0 M325.1 216.3 l0 8.4" stroke="#90A4DC" stroke-width="1.3" fill="none"/>
<path d="M326.3 212.5 l8.4 0 M330.5 208.3 l0 8.4" stroke="#90A4DC" stroke-width="1.3" fill="none"/>
<path d="M331.8 204.6 l8.4 0 M336 200.4 l0 8.4" stroke="#90A4DC" stroke-width="1.3" fill="none"/>
<path d="M337.2 196.6 l8.4 0 M341.4 192.4 l0 8.4" stroke="#90A4DC" stroke-width="1.3" fill="none"/>
<path d="M342.6 188.6 l8.4 0 M346.8 184.4 l0 8.4" stroke="#90A4DC" stroke-width="1.3" fill="none"/>
<path d="M347.9 180.7 l8.4 0 M352.1 176.5 l0 8.4" stroke="#90A4DC" stroke-width="1.3" fill="none"/>
<path d="M353.2 172.7 l8.4 0 M357.4 168.5 l0 8.4" stroke="#90A4DC" stroke-width="1.3" fill="none"/>
<path d="M358.4 164.8 l8.4 0 M362.6 160.6 l0 8.4" stroke="#90A4DC" stroke-width="1.3" fill="none"/>
<path d="M363.5 156.8 l8.4 0 M367.7 152.6 l0 8.4" stroke="#90A4DC" stroke-width="1.3" fill="none"/>
<path d="M368.5 148.9 l8.4 0 M372.7 144.7 l0 8.4" stroke="#90A4DC" stroke-width="1.3" fill="none"/>
<path d="M373.5 140.9 l8.4 0 M377.7 136.7 l0 8.4" stroke="#90A4DC" stroke-width="1.3" fill="none"/>
<path d="M378.3 132.9 l8.4 0 M382.5 128.7 l0 8.4" stroke="#90A4DC" stroke-width="1.3" fill="none"/>
<path d="M383.1 125 l8.4 0 M387.3 120.8 l0 8.4" stroke="#90A4DC" stroke-width="1.3" fill="none"/>
<path d="M387.9 117 l8.4 0 M392.1 112.8 l0 8.4" stroke="#90A4DC" stroke-width="1.3" fill="none"/>
<path d="M392.8 109.1 l8.4 0 M397 104.9 l0 8.4" stroke="#90A4DC" stroke-width="1.3" fill="none"/>
<path d="M400.8 100.5 l8.4 0 M405 96.3 l0 8.4" stroke="#90A4DC" stroke-width="1.3" fill="none"/>
<path d="M402.8 99.6 l8.4 0 M407 95.4 l0 8.4" stroke="#90A4DC" stroke-width="1.3" fill="none"/>
<path d="M404.8 98.8 l8.4 0 M409 94.6 l0 8.4" stroke="#90A4DC" stroke-width="1.3" fill="none"/>
<path d="M406.8 98.2 l8.4 0 M411 94 l0 8.4" stroke="#90A4DC" stroke-width="1.3" fill="none"/>
<path d="M408.8 97.8 l8.4 0 M413 93.6 l0 8.4" stroke="#90A4DC" stroke-width="1.3" fill="none"/>
<path d="M410.8 97.5 l8.4 0 M415 93.3 l0 8.4" stroke="#90A4DC" stroke-width="1.3" fill="none"/>
<path d="M412.8 97.3 l8.4 0 M417 93.1 l0 8.4" stroke="#90A4DC" stroke-width="1.3" fill="none"/>
<path d="M414.8 97.1 l8.4 0 M419 92.9 l0 8.4" stroke="#90A4DC" stroke-width="1.3" fill="none"/>
<path d="M422.6 96.8 l8.4 0 M426.8 92.6 l0 8.4" stroke="#90A4DC" stroke-width="1.3" fill="none"/>
<path d="M430.9 96.6 l8.4 0 M435.1 92.4 l0 8.4" stroke="#90A4DC" stroke-width="1.3" fill="none"/>
<path d="M438.6 96.4 l8.4 0 M442.8 92.2 l0 8.4" stroke="#90A4DC" stroke-width="1.3" fill="none"/>
<path d="M447.5 95.5 l8.4 0 M451.7 91.3 l0 8.4" stroke="#90A4DC" stroke-width="1.3" fill="none"/>
<path d="M456.1 94.5 l8.4 0 M460.3 90.3 l0 8.4" stroke="#90A4DC" stroke-width="1.3" fill="none"/>
<path d="M306.3 308 l8.4 0 M310.5 303.8 l0 8.4" stroke="#90A4DC" stroke-width="1.3" fill="none"/>
<polyline points="58.6,106.5 85.8,106.5" fill="none" stroke="#426FC2" stroke-width="2.5" stroke-linejoin="round" stroke-linecap="round" />
<path d="M72 103.3 l3.2 3.2 l-3.2 3.2 l-3.2 -3.2 z" fill="#426FC2"/>
<text x="88.9" y="110.5" textLength="30" lengthAdjust="spacingAndGlyphs" font-family='"Liberation Serif", "DejaVu Serif", serif' font-size="12" fill="#111">71 kN</text>
<polyline points="467.6,14 494.8,14" fill="none" stroke="#406BBE" stroke-width="2.5" stroke-linejoin="round" stroke-linecap="round" />
<path d="M481 10.7 l3.3 3.3 l-3.3 3.3 l-3.3 -3.3 z" fill="#406BBE"/>
<text x="498.4" y="17.8" textLength="29.6" lengthAdjust="spacingAndGlyphs" font-family='"Liberation Serif", "DejaVu Serif", serif' font-size="11.6" fill="#111">12 kN</text>
<polyline points="467.6,28.4 494.8,28.4" fill="none" stroke="#E17530" stroke-width="2.5" stroke-linejoin="round" stroke-linecap="round" />
<rect x="477.6" y="25" width="6.8" height="6.8" fill="#E17530"/>
<text x="498.4" y="32.2" textLength="29.6" lengthAdjust="spacingAndGlyphs" font-family='"Liberation Serif", "DejaVu Serif", serif' font-size="11.6" fill="#111">40 kN</text>
<polyline points="467.6,42.8 494.8,42.8" fill="none" stroke="#A0A0A0" stroke-width="2.5" stroke-linejoin="round" stroke-linecap="round" />
<path d="M481 39.4 L484.4 46.2 L477.6 46.2 z" fill="#A0A0A0"/>
<text x="498.4" y="46.6" textLength="29.6" lengthAdjust="spacingAndGlyphs" font-family='"Liberation Serif", "DejaVu Serif", serif' font-size="11.6" fill="#111">70 kN</text>
<polyline points="467.6,57.3 494.8,57.3" fill="none" stroke="#F5B800" stroke-width="2.5" stroke-linejoin="round" stroke-linecap="round" />
<path d="M477.9 54.2 l6.2 6.2 M477.9 60.4 l6.2 -6.2" stroke="#F5B800" stroke-width="1.4" fill="none"/>
<text x="498.4" y="61.1" textLength="29.6" lengthAdjust="spacingAndGlyphs" font-family='"Liberation Serif", "DejaVu Serif", serif' font-size="11.6" fill="#111">80 kN</text>
<polyline points="467.6,71.7 494.8,71.7" fill="none" stroke="#5493D1" stroke-width="2.5" stroke-linejoin="round" stroke-linecap="round" />
<path d="M477.9 68.6 l6.2 6.2 M477.9 74.8 l6.2 -6.2 M481 68.6 l0 6.2" stroke="#5493D1" stroke-width="1.3" fill="none"/>
<text x="498.4" y="75.5" textLength="35.2" lengthAdjust="spacingAndGlyphs" font-family='"Liberation Serif", "DejaVu Serif", serif' font-size="11.6" fill="#111">100 kN</text>
<polyline points="467.6,86.1 494.8,86.1" fill="none" stroke="#6AA842" stroke-width="2.5" stroke-linejoin="round" stroke-linecap="round" />
<circle cx="481" cy="86.1" r="3.8" fill="#6AA842"/>
<text x="498.4" y="89.9" textLength="44" lengthAdjust="spacingAndGlyphs" font-family='"Liberation Serif", "DejaVu Serif", serif' font-size="11.6" fill="#111">124.7 kN</text>
<polyline points="467.6,100.5 494.8,100.5" fill="none" stroke="#90A4DC" stroke-width="2.5" stroke-linejoin="round" stroke-linecap="round" />
<path d="M477.8 100.5 l6.4 0 M481 97.3 l0 6.4" stroke="#90A4DC" stroke-width="1.3" fill="none"/>
<text x="498.4" y="104.3" textLength="44" lengthAdjust="spacingAndGlyphs" font-family='"Liberation Serif", "DejaVu Serif", serif' font-size="11.6" fill="#111">101.5 kN</text>
<path d="M47.5 30.3 H56.7 V26.8 L65.2 33.8 L56.7 40.8 V37.3 H47.5 z" fill="#4472C4" stroke="#2F528F" stroke-width="0.8"/>
<path d="M195.3 13.5 H211.8 V9.6 L220.2 17 L211.8 24.4 V20.5 H195.3 z" fill="#4472C4" stroke="#2F528F" stroke-width="0.8"/>
<text x="58.3" y="25.5" textLength="60.5" lengthAdjust="spacingAndGlyphs" font-family='"Liberation Serif", "DejaVu Serif", serif' font-size="13.5" fill="#111">Pre-Repair</text>
<text x="230.9" y="25.5" textLength="67" lengthAdjust="spacingAndGlyphs" font-family='"Liberation Serif", "DejaVu Serif", serif' font-size="13.5" fill="#111">Post-Repair</text>
<ellipse cx="109.9" cy="154.5" rx="7" ry="12.4" fill="none" stroke="#2F528F" stroke-width="1.6"/>
<text x="109.9" y="159.5" text-anchor="middle" font-family='"Liberation Sans", "DejaVu Sans", sans-serif' font-weight="bold" font-size="14" fill="#FF0000">1</text>
<ellipse cx="330.1" cy="77.3" rx="8.5" ry="12.4" fill="none" stroke="#2F528F" stroke-width="1.6"/>
<text x="330.1" y="82.3" text-anchor="middle" font-family='"Liberation Sans", "DejaVu Sans", sans-serif' font-weight="bold" font-size="14" fill="#FF0000">2</text>
<ellipse cx="401.2" cy="22.1" rx="8.8" ry="11.6" fill="none" stroke="#2F528F" stroke-width="1.6"/>
<text x="401.2" y="27.1" text-anchor="middle" font-family='"Liberation Sans", "DejaVu Sans", sans-serif' font-weight="bold" font-size="14" fill="#FF0000">3</text>
<ellipse cx="453" cy="72.4" rx="8.3" ry="12" fill="none" stroke="#2F528F" stroke-width="1.6"/>
<text x="453" y="77.4" text-anchor="middle" font-family='"Liberation Sans", "DejaVu Sans", sans-serif' font-weight="bold" font-size="14" fill="#FF0000">4</text>
<text x="379.2" y="258.8" textLength="111.8" lengthAdjust="spacingAndGlyphs" font-family='"Liberation Serif", "DejaVu Serif", serif' font-size="12.5" fill="#111">(1) Close to steel yield</text>
<text x="379.2" y="274.5" textLength="134.8" lengthAdjust="spacingAndGlyphs" font-family='"Liberation Serif", "DejaVu Serif", serif' font-size="12.5" fill="#111">(2) CFRP starts debonding</text>
<text x="379.2" y="289.8" textLength="126.6" lengthAdjust="spacingAndGlyphs" font-family='"Liberation Serif", "DejaVu Serif", serif' font-size="12.5" fill="#111">(3) Full CFRP debonding</text>
<text x="379.2" y="305.2" textLength="151.1" lengthAdjust="spacingAndGlyphs" font-family='"Liberation Serif", "DejaVu Serif", serif' font-size="12.5" fill="#111">(4) Max. un-repaired capacity</text>
</svg>
</body></html>
